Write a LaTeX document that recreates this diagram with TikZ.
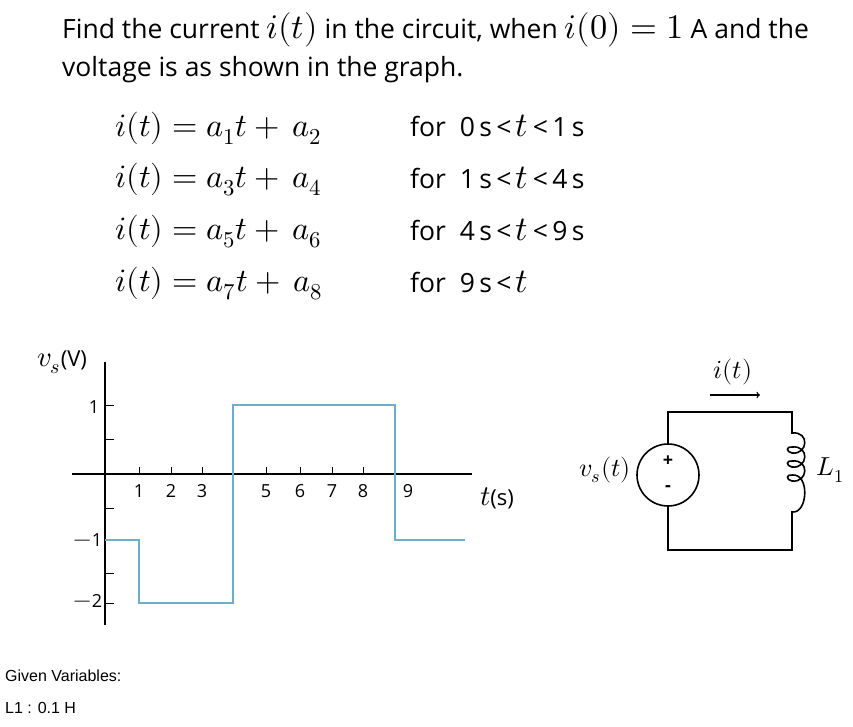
\documentclass[tikz,border=0pt]{standalone}
\usepackage{fontspec}
\usepackage{unicode-math}
\setmainfont{Open Sans}
\setmathfont{Latin Modern Math}[Scale=1.3]
\newfontfamily\arialf{Liberation Sans}
\begin{document}
\begin{tikzpicture}[x=1pt,y=-1pt,
  txt/.style={anchor=west,inner sep=0pt,font=\fontsize{26.5}{30}\selectfont},
  eq/.style={anchor=west,inner sep=0pt,font=\fontsize{25}{30}\selectfont},
  tick/.style={font=\fontsize{18}{20}\selectfont,inner sep=0pt},
  wave/.style={line width=1.6pt, color={rgb,255:red,110;green,175;blue,200}},
  wire/.style={line width=1.6pt},
  small/.style={anchor=west,inner sep=0pt,font=\arialf\fontsize{16}{19}\selectfont}]
\useasboundingbox (0,0) rectangle (853,727);
\node[txt] (l1) at (62,30) {Find the current $i(t)$ in the circuit, when $i(0)=1$ A and the};
\node[txt] (l2) at (62,70) {voltage is as shown in the graph.};
\foreach \k/\y/\a/\b/\r in {1/128/1/2/{0\,s\,<\,$t$\,<\,1\,s},2/180/3/4/{1\,s\,<\,$t$\,<\,4\,s},3/232/5/6/{4\,s\,<\,$t$\,<\,9\,s},4/284/7/8/{9\,s\,<\,$t$}}{
  \node[eq] (e\k) at (115,\y) {$i(t)=a_{\a}t+\,a_{\b}$};
  \node[txt] (f\k) at (410,\y-2) {for\ \ \r};
}
% graph
\draw[line width=1.3pt] (105,362) -- (105,625);
\draw[line width=1.3pt] (72,474) -- (472,474);
\foreach \x in {139,171,202,266,300,332,363} \draw[line width=1pt] (\x,474) -- (\x,467);
\foreach \y in {405,439,508,540,573,603} \draw[line width=1pt] (105,\y) -- (114,\y);
\draw[wave] (105,540) -- (139,540) -- (139,603) -- (233,603) -- (233,405) -- (395,405) -- (395,540) -- (465,540);
\node[tick] (y1) at (94,407) {1};
\node[tick] (ym1) at (88,540) {$-$1};
\node[tick] (ym2) at (88,601) {$-$2};
\foreach \x/\n in {139/1,171/2,202/3,266/5,300/6,332/7,363/8,408/9} \node[tick] (t\n) at (\x,491) {\n};
\node[inner sep=0pt,font=\fontsize{22}{26}\selectfont] (tl) at (497,498) {$t$(s)};
\node[inner sep=0pt,font=\fontsize{22}{26}\selectfont] (vl) at (62,362) {$v_s$(V)};
% circuit
\node[circle,draw,line width=1.6pt,minimum size=62pt,inner sep=0pt] (src) at (668,475) {};
\node[inner sep=0pt,font=\bfseries\fontsize{18}{18}\selectfont] (pl) at (668,461) {+};
\node[inner sep=0pt,font=\bfseries\fontsize{18}{18}\selectfont] (mi) at (668,489) {-};
\coordinate (tl2) at (668,412);
\coordinate (tr) at (792,412);
\coordinate (br) at (792,550);
\coordinate (bl) at (668,550);
\coordinate (ia) at (792,433);
\coordinate (ib) at (792,512);
\draw[wire] (src.north) -- (tl2) -- (tr) -- (ia)
  .. controls (810,431) and (808,455) .. (792,453) .. controls (786,452) and (786,446) .. (792,447)
  .. controls (810,445) and (808,469) .. (792,467) .. controls (786,466) and (786,460) .. (792,461)
  .. controls (810,459) and (808,483) .. (792,481) .. controls (786,480) and (786,474) .. (792,475)
  .. controls (810,473) and (808,514) .. (ib) -- (br) -- (bl) -- (src.south);
\node[inner sep=0pt,font=\fontsize{20}{26}\selectfont] (il) at (733,372) {$i(t)$};
\coordinate (a1) at (710,395); \coordinate (a2) at (760,395);
\draw[line width=1.3pt,->] (a1) -- (a2);
\node[inner sep=0pt,font=\fontsize{20}{26}\selectfont] (vs) at (605,470) {$v_s(t)$};
\node[inner sep=0pt,font=\fontsize{20}{26}\selectfont] (L) at (830,470) {$L_1$};
\node[small] (g1) at (5,676) {Given Variables:};
\node[small] (g2) at (5,708) {L1 : 0.1 H};
\end{tikzpicture}
\end{document}
